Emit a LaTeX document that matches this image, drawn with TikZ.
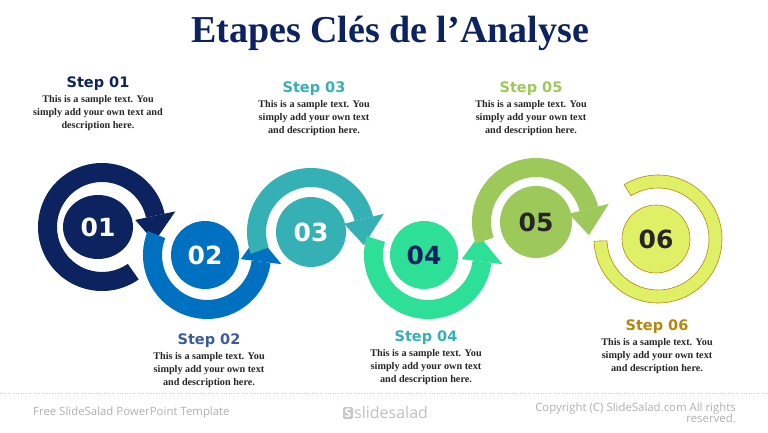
\documentclass[tikz,border=0pt]{standalone}
\usepackage{fontspec}
\setmainfont{Liberation Serif}
\newfontfamily\dvs{DejaVu Sans}
\newfontfamily\opens{Open Sans}
\usetikzlibrary{calc,shapes.geometric}
\definecolor{cA}{HTML}{0D2360}
\definecolor{cB}{HTML}{0070C0}
\definecolor{cC}{HTML}{35B0B5}
\definecolor{cD}{HTML}{2EE097}
\definecolor{cE}{HTML}{9DC85A}
\definecolor{cF}{HTML}{DFF066}
\definecolor{cFb}{HTML}{B8860B}
\definecolor{tB}{HTML}{3A5BA0}
\definecolor{tF}{HTML}{B8860B}
\definecolor{foot}{HTML}{B0B0B0}
\newcommand\ringarrow[8]{%
 \fill[#7] ($(#1,#2)+(#5:#4)$) arc[start angle=#5,end angle=#6,radius=#4]
   -- ($(#1,#2)+(#6:#3)$) arc[start angle=#6,end angle=#5,radius=#3] -- cycle;
 \fill[#7] ($(#1,#2)+(#6:#3-11)$) -- ($(#1,#2)+(#6:#4+11)$)
   -- ($(#1,#2)+({#6+#8}:{(#3+#4)/2})$) -- cycle;}
\tikzset{
 num/.style={circle,minimum size=68pt,inner sep=0pt,font=\dvs\bfseries\fontsize{25}{28}\selectfont},
 stitle/.style={font=\dvs\bfseries\fontsize{14.5}{16}\selectfont},
 body/.style={align=center,font=\bfseries\fontsize{10.2}{13}\selectfont,text=black!85},
 ftxt/.style={text=foot,font=\opens\fontsize{11.4}{11.5}\selectfont}
}
\begin{document}
\begin{tikzpicture}[x=1pt,y=1pt]
\useasboundingbox (0,0) rectangle (768,433);
\node[font=\bfseries\fontsize{38}{42}\selectfont,text=cA] (title) at (390,400) {Etapes Clés de l’Analyse};
% rings
\ringarrow{102}{206}{45}{64}{-55}{-348}{cA}{-28}
\ringarrow{207}{178}{45}{64}{158}{353}{cB}{28}
\ringarrow{311}{201}{45}{64}{200}{14}{cC}{-28}
\ringarrow{428}{178}{45}{64}{163}{353}{cD}{28}
\ringarrow{536}{211}{45}{64}{200}{14}{cE}{-28}
\filldraw[fill=cF,draw=cFb,line width=0.6pt] ($(658,194)+(182:64)$) arc[start angle=182,end angle=482,radius=64]
  -- ($(658,194)+(482:51)$) arc[start angle=482,end angle=182,radius=51] -- cycle;
% numbers
\node[num,ellipse,fill=cA,text=white,minimum width=70pt,minimum height=64pt] (n1) at (98,206) {01};
\node[num,fill=cB,text=white] (n2) at (205,178) {02};
\node[num,fill=cC,text=white,minimum size=70pt] (n3) at (311,201) {03};
\node[num,fill=cD,text=cA] (n4) at (424,178) {04};
\node[num,fill=cE,text=black!85,minimum size=72pt] (n5) at (536,211) {05};
\node[num,fill=cF,draw=cFb,line width=0.6pt,text=black!85] (n6) at (656,194) {06};
% texts
\node[stitle,text=cA] (s1) at (98,349) {Step 01};
\node[body] (b1) at (98,320) {This is a sample text. You\\simply add your own text and\\description here.};
\node[stitle,text=tB] (s2) at (209,92) {Step 02};
\node[body] (b2) at (209,63) {This is a sample text. You\\simply add your own text\\and description here.};
\node[stitle,text=cC] (s3) at (314,344) {Step 03};
\node[body] (b3) at (314,315) {This is a sample text. You\\simply add your own text\\and description here.};
\node[stitle,text=cC] (s4) at (426,95) {Step 04};
\node[body] (b4) at (426,66) {This is a sample text. You\\simply add your own text\\and description here.};
\node[stitle,text=cE] (s5) at (531,344) {Step 05};
\node[body] (b5) at (531,315) {This is a sample text. You\\simply add your own text\\and description here.};
\node[stitle,text=tF] (s6) at (657,106) {Step 06};
\node[body] (b6) at (657,77) {This is a sample text. You\\simply add your own text\\and description here.};
% footer
\draw[foot!60,dotted,line width=0.6pt] (0,40) -- (768,40);
\node[ftxt,anchor=west,inner sep=0pt] (f1) at (33,20) {Free SlideSalad PowerPoint Template};
\node[fill=foot!70,text=white,font=\opens\bfseries\fontsize{12}{13}\selectfont,inner sep=1.5pt,rounded corners=1pt] (lg) at (348,20) {S};
\node[text=foot!80,font=\opens\fontsize{16}{17}\selectfont,anchor=west,inner sep=1pt] (lg2) at (lg.east) {slidesalad};
\node[ftxt,anchor=east,align=right,inner sep=0pt] (f2) at (736,20) {Copyright (C) SlideSalad.com All rights\\reserved.};
\end{tikzpicture}
\end{document}
